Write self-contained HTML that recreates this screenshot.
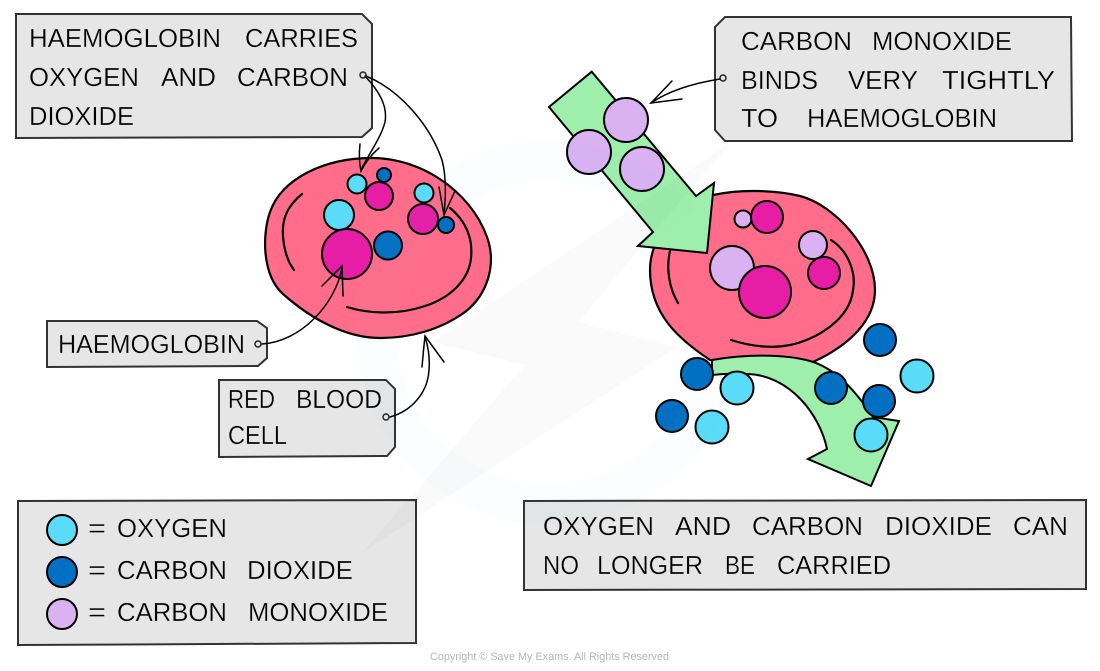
<!DOCTYPE html>
<html><head><meta charset="utf-8"><style>
html,body{margin:0;padding:0;background:#fff;width:1100px;height:671px;overflow:hidden}
svg{display:block}
text{font-family:"Liberation Sans",sans-serif;font-size:26px;fill:#000;stroke:#e6e6e6;stroke-width:.25}
.b{fill:#e6e6e6;stroke:#333;stroke-width:2}
.o{stroke:#000;stroke-width:2}
.l{fill:none;stroke:#000;stroke-width:1.5;stroke-linecap:round;stroke-linejoin:miter}
.c{fill:none;stroke:#000;stroke-width:2.2;stroke-linecap:round}
.cell{fill:#ff6d8a;stroke:#000;stroke-width:2.2}
.ar{fill:#9fefac;stroke:#000;stroke-width:2;stroke-linejoin:miter}
.lb{fill:#5adcf8}.db{fill:#0270c2}.pu{fill:#dab2f2}.ma{fill:#e81da5}
.d{fill:none;stroke:#222;stroke-width:1.5}
</style></head><body>
<svg width="1100" height="671" viewBox="0 0 1100 671" xmlns="http://www.w3.org/2000/svg">

<!-- left cell -->
<path class="cell" d="M372,158 C420,158 470,190 487,237 C497,265 487,295 465,312 C440,330 410,338 380,338 C345,338 310,318 283,294 C262,275 262,235 270,212 C282,178 325,158 372,158Z"/>
<path class="c" d="M302,194 C285,208 282,222 283,236 C284,250 288,262 294,270"/>
<path class="c" d="M450,208 C467,222 473,240 471,258 C469,280 450,298 425,306 C398,315 370,314 347,307"/>
<circle class="o lb" cx="357" cy="184" r="9.5"/>
<circle class="o db" cx="384" cy="175" r="7"/>
<circle class="o ma" cx="379" cy="196" r="14"/>
<circle class="o lb" cx="424" cy="193" r="9.5"/>
<circle class="o ma" cx="423" cy="219" r="15"/>
<circle class="o db" cx="446" cy="225" r="8"/>
<circle class="o lb" cx="339" cy="215" r="15"/>
<circle class="o ma" cx="347" cy="254" r="25"/>
<circle class="o db" cx="388" cy="245.500" r="14"/>

<!-- right cell -->
<path class="cell" d="M713,195 C740,189 775,190 800,196 C835,205 875,250 875,290 C875,320 850,345 813,362 L710,360 C680,340 650,315 650,270 C650,235 680,205 713,195Z"/>
<path class="c" d="M670,251 C666,268 669,288 678,303"/>
<path class="c" d="M831,240 C850,252 856,275 853,290 C850,320 815,340 790,345 C770,349 750,346 731,340"/>
<circle class="o pu" cx="732" cy="268" r="22"/>
<circle class="o ma" cx="765" cy="292" r="26"/>
<circle class="o pu" cx="743" cy="219" r="8.500"/>
<circle class="o ma" cx="767" cy="217" r="16"/>
<circle class="o pu" cx="813" cy="245" r="14"/>
<circle class="o ma" cx="824" cy="273" r="16"/>

<!-- arrow 1 -->
<polygon class="ar" points="591.700,71.700 549,107 653,232 638,246 707,253 714,183 696,196"/>
<circle class="o pu" cx="626" cy="120" r="22"/>
<circle class="o pu" cx="589" cy="152" r="22"/>
<circle class="o pu" cx="642" cy="169" r="22"/>

<!-- arrow 2 -->
<path class="ar" d="M712,360 C745,354 785,354 810,361 C835,368 855,390 873,417 L899,421 L871,486 L808,459 L827,449 C820,415 790,375 747,374 C735,373 724,374 712,375Z"/>
<circle class="o db" cx="697" cy="374" r="16"/>
<circle class="o db" cx="672" cy="416" r="16"/>
<circle class="o db" cx="831" cy="388" r="16"/>
<circle class="o db" cx="879" cy="401" r="16"/>
<circle class="o db" cx="880" cy="340" r="16"/>
<circle class="o lb" cx="737" cy="388" r="16.500"/>
<circle class="o lb" cx="712" cy="427" r="16.500"/>
<circle class="o lb" cx="917" cy="376" r="16.500"/>
<circle class="o lb" cx="871" cy="435" r="16.500"/>

<!-- box 1 -->
<polygon class="b" points="16,14 362,14 372,24 372,128 362,137 16,138"/>
<text x="29" y="47" textLength="192" lengthAdjust="spacingAndGlyphs">HAEMOGLOBIN</text>
<text x="245" y="47" textLength="113" lengthAdjust="spacingAndGlyphs">CARRIES</text>
<text x="29" y="86" textLength="110" lengthAdjust="spacingAndGlyphs">OXYGEN</text>
<text x="161" y="86" textLength="55" lengthAdjust="spacingAndGlyphs">AND</text>
<text x="237" y="86" textLength="111" lengthAdjust="spacingAndGlyphs">CARBON</text>
<text x="29" y="125" textLength="105" lengthAdjust="spacingAndGlyphs">DIOXIDE</text>

<!-- box 2 -->
<polygon class="b" points="725,17 1071,17 1072,141 725,141 715,130 715,27"/>
<text x="741" y="50" textLength="111" lengthAdjust="spacingAndGlyphs">CARBON</text>
<text x="872" y="50" textLength="140" lengthAdjust="spacingAndGlyphs">MONOXIDE</text>
<text x="741" y="89" textLength="77" lengthAdjust="spacingAndGlyphs">BINDS</text>
<text x="848" y="89" textLength="70" lengthAdjust="spacingAndGlyphs">VERY</text>
<text x="942" y="89" textLength="113" lengthAdjust="spacingAndGlyphs">TIGHTLY</text>
<text x="741" y="127" textLength="37" lengthAdjust="spacingAndGlyphs">TO</text>
<text x="807" y="127" textLength="190" lengthAdjust="spacingAndGlyphs">HAEMOGLOBIN</text>

<!-- haemoglobin label -->
<polygon class="b" points="47,321 257,321 267,328 267,358 258,366 47,367"/>
<text x="58" y="353" textLength="187" lengthAdjust="spacingAndGlyphs">HAEMOGLOBIN</text>

<!-- red blood cell label -->
<polygon class="b" points="219,380 386,380 395,389 395,447 387,456 219,457"/>
<text x="228" y="408" textLength="47" lengthAdjust="spacingAndGlyphs">RED</text>
<text x="296" y="408" textLength="86" lengthAdjust="spacingAndGlyphs">BLOOD</text>
<text x="228" y="444" textLength="59" lengthAdjust="spacingAndGlyphs">CELL</text>

<!-- legend -->
<polygon class="b" points="18,501 416,500 416,643 18,645"/>
<circle class="o lb" cx="62" cy="530" r="15"/>
<circle class="o db" cx="62" cy="572" r="15"/>
<circle class="o pu" cx="62" cy="614" r="15"/>
<text x="88" y="537" textLength="18" lengthAdjust="spacingAndGlyphs">=</text>
<text x="117" y="537" textLength="110" lengthAdjust="spacingAndGlyphs">OXYGEN</text>
<text x="88" y="579" textLength="18" lengthAdjust="spacingAndGlyphs">=</text>
<text x="117" y="579" textLength="110" lengthAdjust="spacingAndGlyphs">CARBON</text>
<text x="247" y="579" textLength="106" lengthAdjust="spacingAndGlyphs">DIOXIDE</text>
<text x="88" y="621" textLength="18" lengthAdjust="spacingAndGlyphs">=</text>
<text x="117" y="621" textLength="110" lengthAdjust="spacingAndGlyphs">CARBON</text>
<text x="248" y="621" textLength="140" lengthAdjust="spacingAndGlyphs">MONOXIDE</text>

<!-- bottom box -->
<polygon class="b" points="524,501 1086,500 1086,589 524,590"/>
<text x="543" y="535" textLength="111" lengthAdjust="spacingAndGlyphs">OXYGEN</text>
<text x="675" y="535" textLength="56" lengthAdjust="spacingAndGlyphs">AND</text>
<text x="752" y="535" textLength="111" lengthAdjust="spacingAndGlyphs">CARBON</text>
<text x="885" y="535" textLength="107" lengthAdjust="spacingAndGlyphs">DIOXIDE</text>
<text x="1013" y="535" textLength="55" lengthAdjust="spacingAndGlyphs">CAN</text>
<text x="543" y="574" textLength="36" lengthAdjust="spacingAndGlyphs">NO</text>
<text x="597" y="574" textLength="106" lengthAdjust="spacingAndGlyphs">LONGER</text>
<text x="725" y="574" textLength="30" lengthAdjust="spacingAndGlyphs">BE</text>
<text x="777" y="574" textLength="114" lengthAdjust="spacingAndGlyphs">CARRIED</text>

<!-- connectors -->
<path class="l" d="M365,76 C378,90 388,105 385,122 C381,138 368,155 361,170"/>
<path class="l" d="M360,144 C359,153 359,162 361,171 C365,163 371,155 379,148"/>
<path class="l" d="M366,76 C400,90 430,125 442,160 C446,175 446,195 444,214"/>
<path class="l" d="M439,187 L444,215 L455,191"/>
<path class="l" d="M720,79 C695,83 670,90 651,103"/>
<path class="l" d="M672,81 L651,103 L682,99"/>
<path class="l" d="M262,344 C300,342 335,305 342,268"/>
<path class="l" d="M322,286 L342,266 L343,296"/>
<path class="l" d="M390,417 C412,411 428,392 429,370 C430,358 428,346 425,337"/>
<path class="l" d="M422,367 C423,355 424,345 425,336 L444,362"/>
<circle class="d" cx="363" cy="75" r="3"/>
<circle class="d" cx="723" cy="78" r="3"/>
<circle class="d" cx="258" cy="344" r="3"/>
<circle class="d" cx="386" cy="417" r="3"/>

<text x="430" y="660" textLength="239" lengthAdjust="spacingAndGlyphs" style="font-size:11px;fill:#b5b5b5;stroke:none">Copyright © Save My Exams. All Rights Reserved</text>

<!-- faint watermark overlaid on everything -->
<path d="M680,222 A172,172 0 1 0 707,398" fill="none" stroke="#5bc8f0" stroke-width="40" opacity=".025"/>
<polygon points="730,143 433,342 525,365 362,553 677,347 578,322" fill="#000" opacity=".018"/>
</svg>
</body></html>
